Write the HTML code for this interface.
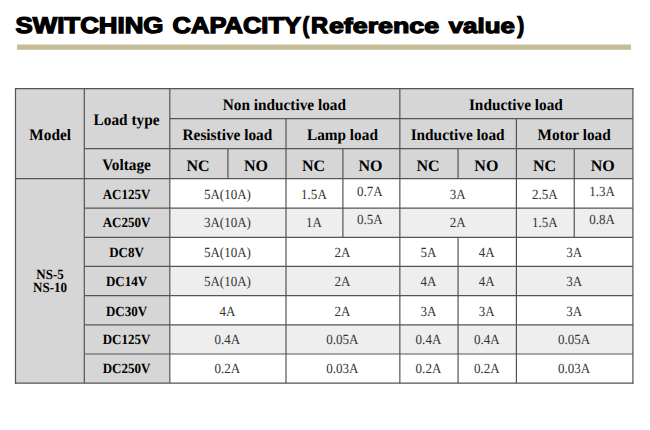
<!DOCTYPE html>
<html><head><meta charset="utf-8"><style>
html,body{margin:0;padding:0;background:#fff;width:650px;height:430px;overflow:hidden}
svg{position:absolute;left:0;top:0}
.t{font-family:"Liberation Serif",serif;fill:#000;text-anchor:middle;text-rendering:geometricPrecision}
</style></head><body>
<svg width="650" height="430" viewBox="0 0 650 430">
<g text-rendering="geometricPrecision" font-family="Liberation Sans, sans-serif" font-weight="bold" font-size="22.8" fill="#000" stroke="#000" stroke-width="1.3"><text transform="translate(15.50 32.7) scale(1.1345 1)" x="0" y="0">SWITCHING</text><text transform="translate(172.62 32.7) scale(1.1183 1)" x="0" y="0">CAPACITY</text><text transform="translate(302.47 32.7) scale(0.8625 1)" x="0" y="0">(</text><text transform="translate(311.06 32.7) scale(1.0375 1)" x="0" y="0">R</text><text transform="translate(328.91 32.7) scale(1.1754 0.922)" x="0" y="0">eference</text><text transform="translate(448.75 32.7) scale(1.1322 0.922)" x="0" y="0">value</text><text transform="translate(517.46 32.7) scale(0.8774 1)" x="0" y="0">)</text></g>
<rect x="17" y="44.5" width="614" height="5.25" fill="#c5bc98"/>
<rect x="15.50" y="88.56" width="617.40" height="90.04" fill="#d6d6d6"/><rect x="15.50" y="178.60" width="154.30" height="204.56" fill="#d6d6d6"/><rect x="169.80" y="178.60" width="463.10" height="29.50" fill="#ffffff"/><rect x="169.80" y="208.10" width="463.10" height="29.20" fill="#eeeeee"/><rect x="169.80" y="237.30" width="463.10" height="29.00" fill="#ffffff"/><rect x="169.80" y="266.30" width="463.10" height="29.30" fill="#eeeeee"/><rect x="169.80" y="295.60" width="463.10" height="29.26" fill="#ffffff"/><rect x="169.80" y="324.86" width="463.10" height="29.12" fill="#eeeeee"/><rect x="169.80" y="353.98" width="463.10" height="29.18" fill="#ffffff"/>
<g stroke="#555555" stroke-width="1.2"><line x1="14.90" y1="88.56" x2="633.50" y2="88.56"/><line x1="14.90" y1="383.16" x2="633.50" y2="383.16"/><line x1="15.50" y1="87.96" x2="15.50" y2="383.76"/><line x1="632.90" y1="87.96" x2="632.90" y2="383.76"/><line x1="169.80" y1="118.60" x2="632.90" y2="118.60"/><line x1="84.30" y1="148.60" x2="632.90" y2="148.60"/><line x1="15.50" y1="178.60" x2="632.90" y2="178.60"/><line x1="84.30" y1="208.10" x2="632.90" y2="208.10"/><line x1="84.30" y1="237.30" x2="632.90" y2="237.30"/><line x1="84.30" y1="266.30" x2="632.90" y2="266.30"/><line x1="84.30" y1="295.60" x2="632.90" y2="295.60"/><line x1="84.30" y1="324.86" x2="632.90" y2="324.86"/><line x1="84.30" y1="353.98" x2="632.90" y2="353.98"/><line x1="84.30" y1="88.56" x2="84.30" y2="383.16"/><line x1="169.80" y1="88.56" x2="169.80" y2="383.16"/><line x1="399.85" y1="88.56" x2="399.85" y2="383.16"/><line x1="286.00" y1="118.60" x2="286.00" y2="178.60"/><line x1="516.40" y1="118.60" x2="516.40" y2="178.60"/><line x1="227.90" y1="148.60" x2="227.90" y2="178.60"/><line x1="342.90" y1="148.60" x2="342.90" y2="178.60"/><line x1="458.06" y1="148.60" x2="458.06" y2="178.60"/><line x1="574.25" y1="148.60" x2="574.25" y2="178.60"/><line x1="286.00" y1="178.60" x2="286.00" y2="208.10"/><line x1="342.90" y1="178.60" x2="342.90" y2="208.10"/><line x1="516.40" y1="178.60" x2="516.40" y2="208.10"/><line x1="574.25" y1="178.60" x2="574.25" y2="208.10"/><line x1="286.00" y1="208.10" x2="286.00" y2="237.30"/><line x1="342.90" y1="208.10" x2="342.90" y2="237.30"/><line x1="516.40" y1="208.10" x2="516.40" y2="237.30"/><line x1="574.25" y1="208.10" x2="574.25" y2="237.30"/><line x1="286.00" y1="237.30" x2="286.00" y2="266.30"/><line x1="458.06" y1="237.30" x2="458.06" y2="266.30"/><line x1="516.40" y1="237.30" x2="516.40" y2="266.30"/><line x1="286.00" y1="266.30" x2="286.00" y2="295.60"/><line x1="458.06" y1="266.30" x2="458.06" y2="295.60"/><line x1="516.40" y1="266.30" x2="516.40" y2="295.60"/><line x1="286.00" y1="295.60" x2="286.00" y2="324.86"/><line x1="458.06" y1="295.60" x2="458.06" y2="324.86"/><line x1="516.40" y1="295.60" x2="516.40" y2="324.86"/><line x1="286.00" y1="324.86" x2="286.00" y2="353.98"/><line x1="458.06" y1="324.86" x2="458.06" y2="353.98"/><line x1="516.40" y1="324.86" x2="516.40" y2="353.98"/><line x1="286.00" y1="353.98" x2="286.00" y2="383.16"/><line x1="458.06" y1="353.98" x2="458.06" y2="383.16"/><line x1="516.40" y1="353.98" x2="516.40" y2="383.16"/></g>
<g class="t"><text transform="translate(50.10 139.60) scale(0.956 1)" font-size="16.0" font-weight="bold">Model</text><text transform="translate(126.55 125.30) scale(0.956 1)" font-size="16.0" font-weight="bold">Load type</text><text transform="translate(126.55 170.40) scale(0.956 1)" font-size="16.0" font-weight="bold">Voltage</text><text transform="translate(284.33 109.70) scale(0.956 1)" font-size="16.0" font-weight="bold">Non inductive load</text><text transform="translate(515.88 109.70) scale(0.956 1)" font-size="16.0" font-weight="bold">Inductive load</text><text transform="translate(227.40 139.50) scale(0.956 1)" font-size="16.0" font-weight="bold">Resistive load</text><text transform="translate(342.43 139.50) scale(0.956 1)" font-size="16.0" font-weight="bold">Lamp load</text><text transform="translate(457.62 139.50) scale(0.956 1)" font-size="16.0" font-weight="bold">Inductive load</text><text transform="translate(574.15 139.50) scale(0.956 1)" font-size="16.0" font-weight="bold">Motor load</text><text transform="translate(197.95 170.50) scale(1.0 1)" font-size="16.0" font-weight="bold">NC</text><text transform="translate(256.05 170.50) scale(1.0 1)" font-size="16.0" font-weight="bold">NO</text><text transform="translate(313.55 170.50) scale(1.0 1)" font-size="16.0" font-weight="bold">NC</text><text transform="translate(370.48 170.50) scale(1.0 1)" font-size="16.0" font-weight="bold">NO</text><text transform="translate(428.06 170.50) scale(1.0 1)" font-size="16.0" font-weight="bold">NC</text><text transform="translate(486.33 170.50) scale(1.0 1)" font-size="16.0" font-weight="bold">NO</text><text transform="translate(544.43 170.50) scale(1.0 1)" font-size="16.0" font-weight="bold">NC</text><text transform="translate(602.68 170.50) scale(1.0 1)" font-size="16.0" font-weight="bold">NO</text><text transform="translate(50.10 278.80) scale(0.93 1)" font-size="14.0" font-weight="bold">NS-5</text><text transform="translate(50.10 292.40) scale(0.93 1)" font-size="14.0" font-weight="bold">NS-10</text><text transform="translate(126.55 198.80) scale(0.93 1)" font-size="14.0" font-weight="bold">AC125V</text><text transform="translate(126.55 226.80) scale(0.93 1)" font-size="14.0" font-weight="bold">AC250V</text><text transform="translate(126.55 256.80) scale(0.93 1)" font-size="14.0" font-weight="bold">DC8V</text><text transform="translate(126.55 285.80) scale(0.93 1)" font-size="14.0" font-weight="bold">DC14V</text><text transform="translate(126.55 315.50) scale(0.93 1)" font-size="14.0" font-weight="bold">DC30V</text><text transform="translate(126.55 343.80) scale(0.93 1)" font-size="14.0" font-weight="bold">DC125V</text><text transform="translate(126.55 372.80) scale(0.93 1)" font-size="14.0" font-weight="bold">DC250V</text><text transform="translate(227.40 198.80) scale(0.93 1)" font-size="14.0" fill="#333333">5A(10A)</text><text transform="translate(313.95 198.80) scale(0.93 1)" font-size="14.0" fill="#333333">1.5A</text><text transform="translate(369.77 195.70) scale(0.93 1)" font-size="14.0" fill="#333333">0.7A</text><text transform="translate(457.62 198.80) scale(0.93 1)" font-size="14.0" fill="#333333">3A</text><text transform="translate(544.83 198.80) scale(0.93 1)" font-size="14.0" fill="#333333">2.5A</text><text transform="translate(601.98 195.70) scale(0.93 1)" font-size="14.0" fill="#333333">1.3A</text><text transform="translate(227.40 226.80) scale(0.93 1)" font-size="14.0" fill="#333333">3A(10A)</text><text transform="translate(313.95 226.80) scale(0.93 1)" font-size="14.0" fill="#333333">1A</text><text transform="translate(369.77 224.00) scale(0.93 1)" font-size="14.0" fill="#333333">0.5A</text><text transform="translate(457.62 226.80) scale(0.93 1)" font-size="14.0" fill="#333333">2A</text><text transform="translate(544.83 226.80) scale(0.93 1)" font-size="14.0" fill="#333333">1.5A</text><text transform="translate(601.98 224.00) scale(0.93 1)" font-size="14.0" fill="#333333">0.8A</text><text transform="translate(227.40 256.80) scale(0.93 1)" font-size="14.0" fill="#333333">5A(10A)</text><text transform="translate(342.43 256.80) scale(0.93 1)" font-size="14.0" fill="#333333">2A</text><text transform="translate(428.46 256.80) scale(0.93 1)" font-size="14.0" fill="#333333">5A</text><text transform="translate(486.73 256.80) scale(0.93 1)" font-size="14.0" fill="#333333">4A</text><text transform="translate(574.15 256.80) scale(0.93 1)" font-size="14.0" fill="#333333">3A</text><text transform="translate(227.40 285.80) scale(0.93 1)" font-size="14.0" fill="#333333">5A(10A)</text><text transform="translate(342.43 285.80) scale(0.93 1)" font-size="14.0" fill="#333333">2A</text><text transform="translate(428.46 285.80) scale(0.93 1)" font-size="14.0" fill="#333333">4A</text><text transform="translate(486.73 285.80) scale(0.93 1)" font-size="14.0" fill="#333333">4A</text><text transform="translate(574.15 285.80) scale(0.93 1)" font-size="14.0" fill="#333333">3A</text><text transform="translate(227.40 315.50) scale(0.93 1)" font-size="14.0" fill="#333333">4A</text><text transform="translate(342.43 315.50) scale(0.93 1)" font-size="14.0" fill="#333333">2A</text><text transform="translate(428.46 315.50) scale(0.93 1)" font-size="14.0" fill="#333333">3A</text><text transform="translate(486.73 315.50) scale(0.93 1)" font-size="14.0" fill="#333333">3A</text><text transform="translate(574.15 315.50) scale(0.93 1)" font-size="14.0" fill="#333333">3A</text><text transform="translate(227.40 343.80) scale(0.93 1)" font-size="14.0" fill="#333333">0.4A</text><text transform="translate(342.43 343.80) scale(0.93 1)" font-size="14.0" fill="#333333">0.05A</text><text transform="translate(428.46 343.80) scale(0.93 1)" font-size="14.0" fill="#333333">0.4A</text><text transform="translate(486.73 343.80) scale(0.93 1)" font-size="14.0" fill="#333333">0.4A</text><text transform="translate(574.15 343.80) scale(0.93 1)" font-size="14.0" fill="#333333">0.05A</text><text transform="translate(227.40 372.80) scale(0.93 1)" font-size="14.0" fill="#333333">0.2A</text><text transform="translate(342.43 372.80) scale(0.93 1)" font-size="14.0" fill="#333333">0.03A</text><text transform="translate(428.46 372.80) scale(0.93 1)" font-size="14.0" fill="#333333">0.2A</text><text transform="translate(486.73 372.80) scale(0.93 1)" font-size="14.0" fill="#333333">0.2A</text><text transform="translate(574.15 372.80) scale(0.93 1)" font-size="14.0" fill="#333333">0.03A</text></g>
</svg>
</body></html>
